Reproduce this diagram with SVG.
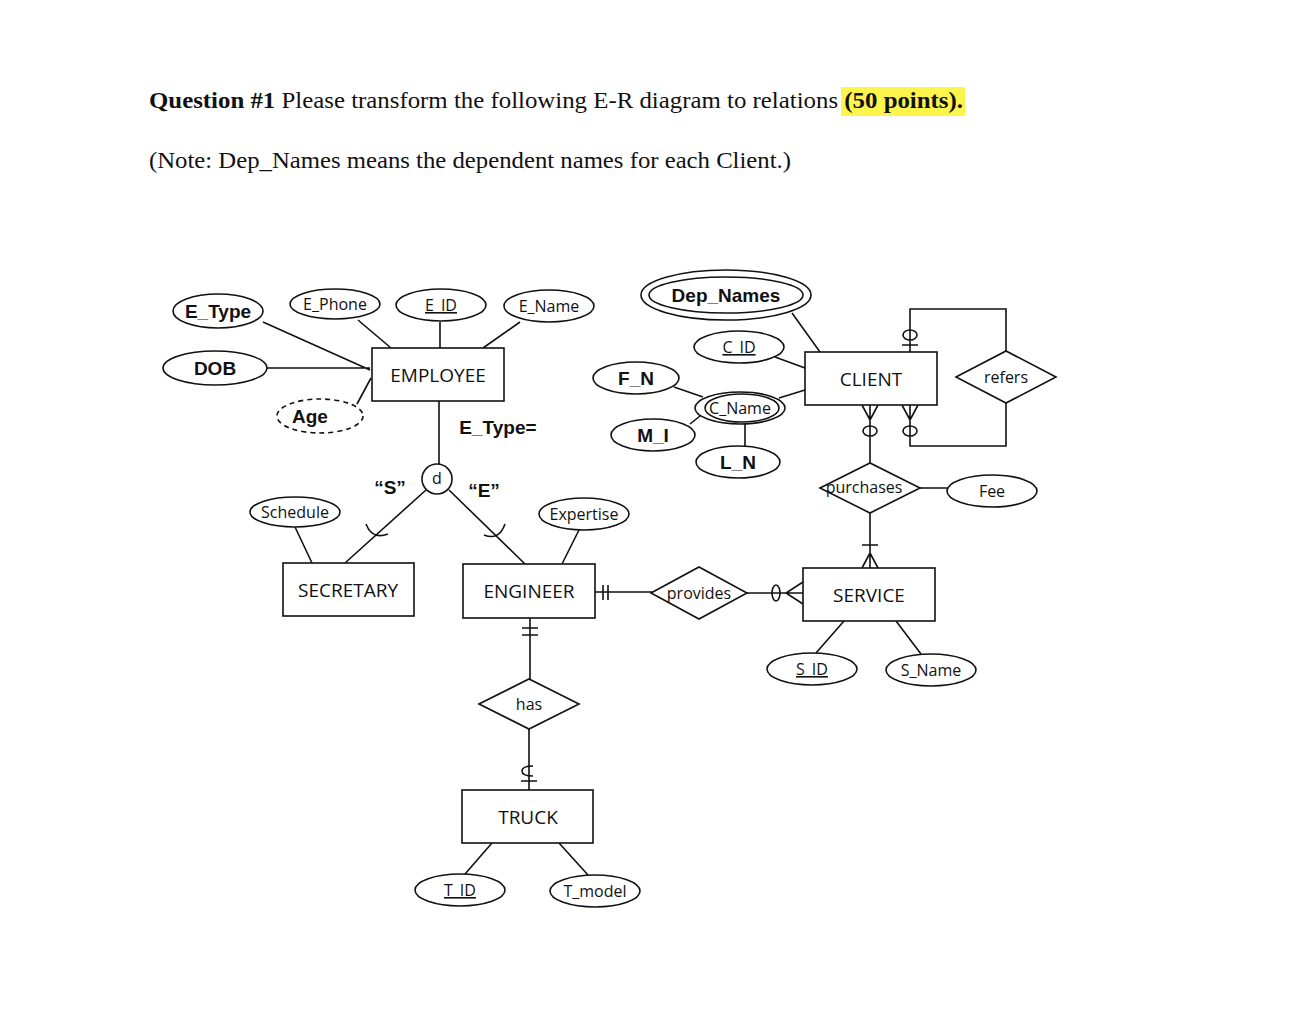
<svg xmlns="http://www.w3.org/2000/svg" width="1290" height="1028" viewBox="0 0 1290 1028">
<style>
.t{font-family:"Liberation Serif",serif;font-size:23px;fill:#111}
.l{font-family:"Open Sans","DejaVu Sans",sans-serif;font-size:19px;fill:#111;text-anchor:middle}
.s{font-size:16px}
.b{font-weight:bold;font-family:"Liberation Sans",sans-serif}
.sh{fill:#fff;stroke:#111;stroke-width:1.6}
.ln{stroke:#111;stroke-width:1.6;fill:none}
</style>
<rect width="1290" height="1028" fill="#fff"/>
<rect x="841" y="87" width="124" height="29" fill="#fdf54c"/>
<text class="t" x="149" y="108" textLength="814" lengthAdjust="spacingAndGlyphs"><tspan font-weight="bold">Question #1</tspan> Please transform the following E-R diagram to relations <tspan font-weight="bold">(50 points).</tspan></text>
<text class="t" x="149" y="168" textLength="642" lengthAdjust="spacingAndGlyphs">(Note: Dep_Names means the dependent names for each Client.)</text>
<g id="connectors" class="ln">
<path d="M263,322L370,370M267,368H370M357,404L371,378M358,320L391,348M440,322V348M520,322L483,348"/>
<path d="M439,401V464M426,490L345,563M449,490L525,564"/>
<path d="M366,524Q372,540 388,534M484,535Q499,541 505,524"/>
<path d="M295,527L312,563M579,530L562,564"/>
<path d="M595,592H652M603,585V600M608,585V600"/>
<path d="M747,593H803M803,582L786,593L803,604"/>
<ellipse cx="776" cy="593" rx="4" ry="8"/>
<path d="M844,621L816,653M896,621L921,654"/>
<path d="M530,618V680M522,628H538M522,635H538"/>
<path d="M529,729V790M521,781H537"/>
<path d="M533,766Q522,766 522,771Q522,776 533,776"/>
<path d="M492,843L465,874M559,843L588,875"/>
<path d="M792,313L820,352M775,357L805,368M779,398L805,390M674,387L703,397M690,424L700,416M745,424V446"/>
<path d="M910,352V309H1006V351M1006,403V446H910V405M902,345H918M902,405L910,420L918,405"/>
<ellipse cx="910" cy="335" rx="7" ry="5"/>
<ellipse cx="910" cy="431" rx="7" ry="5"/>
<path d="M870,405V463M862,405L870,420L878,405"/>
<ellipse cx="870" cy="431" rx="7" ry="5"/>
<path d="M920,488H947M870,513V568M862,545H878M862,568L870,553L878,568"/>
</g>
<g id="employee"><rect class="sh" x="372" y="348" width="132" height="53"/><text class="l" x="438" y="382">EMPLOYEE</text></g>
<g id="e_type"><ellipse class="sh" cx="218" cy="311" rx="45" ry="17"/><text class="l b" x="218" y="318">E_Type</text></g>
<g id="e_phone"><ellipse class="sh" cx="335" cy="304" rx="45" ry="15"/><text class="l s" x="335" y="310">E_Phone</text></g>
<g id="e_id"><ellipse class="sh" cx="441" cy="305" rx="45" ry="16"/><text class="l s" x="441" y="311" text-decoration="underline">E_ID</text></g>
<g id="e_name"><ellipse class="sh" cx="549" cy="306" rx="45" ry="16"/><text class="l s" x="549" y="312">E_Name</text></g>
<g id="dob"><ellipse class="sh" cx="215" cy="368" rx="52" ry="17"/><text class="l b" x="215" y="375">DOB</text></g>
<g id="age"><ellipse class="sh" cx="320" cy="416" rx="43" ry="17" stroke-dasharray="5,4"/><text class="l b" x="310" y="423">Age</text></g>
<g id="disjoint"><circle class="sh" cx="437" cy="479" r="15"/><text class="l s" x="437" y="484">d</text>
<text class="l b" x="498" y="434">E_Type=</text><text class="l b" x="390" y="494">“S”</text><text class="l b" x="484" y="497">“E”</text></g>
<g id="schedule"><ellipse class="sh" cx="295" cy="512" rx="45" ry="15"/><text class="l s" x="295" y="518">Schedule</text></g>
<g id="expertise"><ellipse class="sh" cx="584" cy="514" rx="45" ry="16"/><text class="l s" x="584" y="520">Expertise</text></g>
<g id="secretary"><rect class="sh" x="283" y="563" width="131" height="53"/><text class="l" x="348" y="597">SECRETARY</text></g>
<g id="engineer"><rect class="sh" x="463" y="564" width="132" height="54"/><text class="l" x="529" y="598">ENGINEER</text></g>
<g id="provides"><path class="sh" d="M651,593L699,567L747,593L699,619Z"/><text class="l s" x="699" y="599">provides</text></g>
<g id="service"><rect class="sh" x="803" y="568" width="132" height="53"/><text class="l" x="869" y="602">SERVICE</text></g>
<g id="s_id"><ellipse class="sh" cx="812" cy="669" rx="45" ry="16"/><text class="l s" x="812" y="675" text-decoration="underline">S_ID</text></g>
<g id="s_name"><ellipse class="sh" cx="931" cy="670" rx="45" ry="16"/><text class="l s" x="931" y="676">S_Name</text></g>
<g id="has"><path class="sh" d="M479,704L529,679L579,704L529,729Z"/><text class="l s" x="529" y="710">has</text></g>
<g id="truck"><rect class="sh" x="462" y="790" width="131" height="53"/><text class="l" x="528" y="824">TRUCK</text></g>
<g id="t_id"><ellipse class="sh" cx="460" cy="890" rx="45" ry="16"/><text class="l s" x="460" y="896" text-decoration="underline">T_ID</text></g>
<g id="t_model"><ellipse class="sh" cx="595" cy="891" rx="45" ry="16"/><text class="l s" x="595" y="897">T_model</text></g>
<g id="client"><rect class="sh" x="805" y="352" width="132" height="53"/><text class="l" x="871" y="386">CLIENT</text></g>
<g id="dep_names"><ellipse class="sh" cx="726" cy="295" rx="85" ry="25"/><ellipse class="sh" cx="726" cy="295" rx="77" ry="18"/><text class="l b" x="726" y="302" font-size="21">Dep_Names</text></g>
<g id="c_id"><ellipse class="sh" cx="739" cy="347" rx="45" ry="16"/><text class="l s" x="739" y="353" text-decoration="underline">C_ID</text></g>
<g id="c_name"><ellipse class="sh" cx="740" cy="408" rx="45" ry="16"/><ellipse class="sh" cx="742" cy="408" rx="37" ry="14"/><text class="l s" x="740" y="414">C_Name</text></g>
<g id="f_n"><ellipse class="sh" cx="636" cy="378" rx="43" ry="16"/><text class="l b" x="636" y="385">F_N</text></g>
<g id="m_i"><ellipse class="sh" cx="653" cy="435" rx="42" ry="16"/><text class="l b" x="653" y="442">M_I</text></g>
<g id="l_n"><ellipse class="sh" cx="738" cy="462" rx="42" ry="16"/><text class="l b" x="738" y="469">L_N</text></g>
<g id="refers"><path class="sh" d="M956,377L1006,351L1056,377L1006,403Z"/><text class="l s" x="1006" y="383">refers</text></g>
<g id="purchases"><path class="sh" d="M820,488L870,463L920,488L870,513Z"/><text class="l s" x="864" y="493">purchases</text></g>
<g id="fee"><ellipse class="sh" cx="992" cy="491" rx="45" ry="16"/><text class="l s" x="992" y="497">Fee</text></g>
</svg>
